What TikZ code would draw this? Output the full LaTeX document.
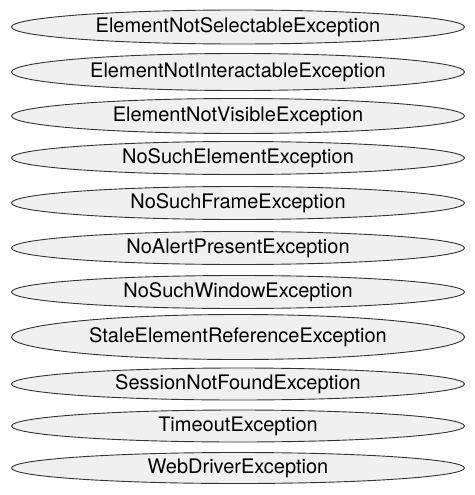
\documentclass[tikz,border=0pt]{standalone}
\usepackage{fontspec}
\setmainfont{TeX Gyre Heros}
\usepackage{tikz}
\usetikzlibrary{shapes.geometric}

\begin{document}
\begin{tikzpicture}[x=1pt,y=-1pt,
  exc/.style={ellipse, draw=black!80, line width=0.9pt, fill=gray!12,
    minimum width=453pt, minimum height=33pt, inner sep=0pt,
    font=\fontsize{20}{24}\selectfont}]
  % Page frame
  \useasboundingbox (0,0) rectangle (474,495);

  % Exception nodes
  \node[exc, minimum height=34pt] (sel) at (238,27) {ElementNotSelectableException};
  \node[exc, minimum height=37pt] (inter) at (238,72) {ElementNotInteractableException};
  \node[exc, minimum height=35pt] (vis) at (238,116) {ElementNotVisibleException};
  \node[exc] (elem) at (238,158) {NoSuchElementException};
  \node[exc] (frame) at (238,203) {NoSuchFrameException};
  \node[exc] (alert) at (238,248) {NoAlertPresentException};
  \node[exc] (window) at (238,292) {NoSuchWindowException};
  \node[exc, minimum height=45pt] (stale) at (238,337) {StaleElementReferenceException};
  \node[exc, minimum height=32pt] (session) at (238,384) {SessionNotFoundException};
  \node[exc, minimum height=32pt] (timeout) at (238,426) {TimeoutException};
  \node[exc, minimum height=31pt] (driver) at (238,468) {WebDriverException};
\end{tikzpicture}
\end{document}
